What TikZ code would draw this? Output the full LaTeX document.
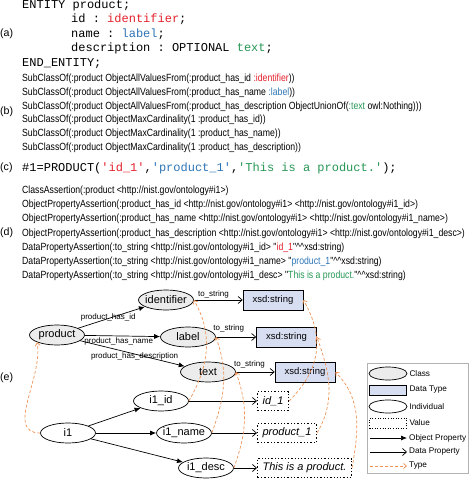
\documentclass[tikz,border=0pt]{standalone}
\usepackage{fontspec}
\setmainfont{Liberation Sans}
\setmonofont{Liberation Mono}
\newfontfamily\narrowfont[FakeStretch=0.836]{Liberation Sans}
\usetikzlibrary{shapes, arrows.meta, positioning, shapes.geometric}

\definecolor{codered}{RGB}{228,32,44}
\definecolor{codeblue}{RGB}{46,117,182}
\definecolor{codegreen}{RGB}{38,150,84}
\definecolor{typeorange}{RGB}{240,146,84}
\definecolor{dtblue}{RGB}{216,222,242}
\definecolor{clsgray}{RGB}{236,236,236}

\begin{document}
\begin{tikzpicture}[
	x=1pt, y=1pt,
	node distance=4pt and 4pt,
	code/.style={anchor=base west, align=left, inner sep=0pt, font=\ttfamily\fontsize{12}{14.5}\selectfont},
	owl/.style={anchor=base west, align=left, inner sep=0pt, font=\narrowfont\fontsize{10.4}{13.6}\selectfont},
	part/.style={anchor=west, inner sep=0pt, font=\fontsize{10.6}{12}\selectfont},
	cls/.style={ellipse, draw, line width=0.7pt, fill=clsgray, minimum width=55pt, minimum height=20pt,
		inner xsep=-3pt, inner ysep=0pt, font=\fontsize{11}{13}\selectfont},
	indiv/.style={cls, fill=white},
	dtype/.style={rectangle, draw, line width=0.7pt, fill=dtblue, minimum width=60pt, minimum height=20pt,
		inner sep=0pt, font=\fontsize{9.5}{11}\selectfont},
	val/.style={rectangle, draw, dotted, line width=1.3pt, minimum height=19pt, inner xsep=5pt,
		font=\itshape\fontsize{11}{13}\selectfont},
	lbl/.style={font=\fontsize{8}{9}\selectfont, inner sep=1pt},
	lgtext/.style={inner sep=0pt, font=\fontsize{8.2}{10}\selectfont},
	obj/.style={draw, line width=0.7pt, -{Latex[length=6pt, width=5pt]}},
	dat/.style={draw, line width=0.7pt, -{Straight Barb[length=4pt, width=7pt]}},
	type/.style={draw=typeorange, dash pattern=on 3pt off 2pt, line width=0.7pt,
		-{Straight Barb[length=3pt, width=5pt]}},
	]
	\useasboundingbox (0,0) rectangle (474,-481);
	
	\node [part] (pa) at (0,-34) {(a)};
	\node [part] (pb) at (0,-112) {(b)};
	\node [part] (pc) at (0,-168) {(c)};
	\node [part] (pd) at (0,-233) {(d)};
	\node [part] (pe) at (0,-378) {(e)};
	
	\node [code] (a) at (22,-66.5) {ENTITY product;\\
		\hspace*{49pt}id : \textcolor{codered}{identifier};\\
		\hspace*{49pt}name : \textcolor{codeblue}{label};\\
		\hspace*{49pt}description : OPTIONAL \textcolor{codegreen}{text};\\
		END\_ENTITY;};
	\node [owl] (b) at (22,-150) {SubClassOf(:product ObjectAllValuesFrom(:product\_has\_id \textcolor{codered}{:identifier}))\\
		SubClassOf(:product ObjectAllValuesFrom(:product\_has\_name \textcolor{codeblue}{:label}))\\
		SubClassOf(:product ObjectAllValuesFrom(:product\_has\_description ObjectUnionOf(\textcolor{codegreen}{:text} owl:Nothing)))\\
		SubClassOf(:product ObjectMaxCardinality(1 :product\_has\_id))\\
		SubClassOf(:product ObjectMaxCardinality(1 :product\_has\_name))\\
		SubClassOf(:product ObjectMaxCardinality(1 :product\_has\_description))};
	\node [code] (c) at (22,-171.5) {\#1=PRODUCT(\textcolor{codered}{'id\_1'},\textcolor{codeblue}{'product\_1'},\textcolor{codegreen}{'This is a product.'});};
	\node [owl, font=\narrowfont\fontsize{10.4}{14.2}\selectfont] (d) at (22,-278.7) {ClassAssertion(:product <http://nist.gov/ontology\#i1>)\\
		ObjectPropertyAssertion(:product\_has\_id <http://nist.gov/ontology\#i1> <http://nist.gov/ontology\#i1\_id>)\\
		ObjectPropertyAssertion(:product\_has\_name <http://nist.gov/ontology\#i1> <http://nist.gov/ontology\#i1\_name>)\\
		ObjectPropertyAssertion(:product\_has\_description <http://nist.gov/ontology\#i1> <http://nist.gov/ontology\#i1\_desc>)\\
		DataPropertyAssertion(:to\_string <http://nist.gov/ontology\#i1\_id> "\textcolor{codered}{id\_1}"\textasciicircum\textasciicircum xsd:string)\\
		DataPropertyAssertion(:to\_string <http://nist.gov/ontology\#i1\_name> "\textcolor{codeblue}{product\_1}"\textasciicircum\textasciicircum xsd:string)\\
		DataPropertyAssertion(:to\_string <http://nist.gov/ontology\#i1\_desc> "\textcolor{codegreen}{This is a product.}"\textasciicircum\textasciicircum xsd:string)};
	
	\node [cls] (product) at (57,-335) {product};
	\node [cls, on grid, above right=35pt and 109pt of product] (identifier) {identifier};
	\node [cls, on grid, below right=2pt and 131pt of product] (label) {label};
	\node [cls, on grid, below right=37pt and 151pt of product] (text) {text};
	\node [dtype, on grid, right=107pt of identifier] (xsd1) {xsd:string};
	\node [dtype, on grid, right=98.5pt of label] (xsd2) {xsd:string};
	\node [dtype, on grid, right=97pt of text] (xsd3) {xsd:string};
	\node [indiv, on grid, below right=98pt and 11pt of product] (i1) {i1};
	\node [indiv, on grid, above right=32pt and 93pt of i1] (i1_id) {i1\_id};
	\node [indiv, on grid, right=116pt of i1] (i1_name) {i1\_name};
	\node [indiv, on grid, below right=35pt and 138pt of i1] (i1_desc) {i1\_desc};
	\node [val, on grid, right=112pt of i1_id] (id1) {id\_1};
	\node [val, on grid, right=103pt of i1_name] (prod1) {product\_1};
	\node [val, on grid, right=98.5pt of i1_desc] (desc) {This is a product.};
	
	\path [obj] (product) -- node [lbl, pos=0.45, yshift=1pt] {product\_has\_id} (identifier);
	\path [obj] (product) -- node [lbl, below, pos=0.45] {product\_has\_name} (label);
	\path [obj] (product) -- node [lbl, pos=0.52, yshift=-2pt] {product\_has\_description} (text);
	\path [obj] (i1) -- (i1_id);
	\path [obj] (i1) -- (i1_name);
	\path [obj] (i1) -- (i1_desc);
	
	\path [dat] (identifier) -- node [lbl, above, pos=0.4] {to\_string} (xsd1);
	\path [dat] (label) -- node [lbl, above=3pt, pos=0.32] {to\_string} (xsd2);
	\path [dat] (text) -- node [lbl, above=2pt, pos=0.35] {to\_string} (xsd3);
	\path [dat] (i1_id) -- (id1);
	\path [dat] (i1_name) -- (prod1);
	\path [dat] (i1_desc) -- (desc);
	
	\path [type] (i1.west) to[out=180, in=-80] (product.200);
	\path [type] (i1_id.east) to[out=60, in=-60] (identifier.east);
	\path [type] (i1_name.east) to[out=70, in=-70] (label.east);
	\path [type] (i1_desc.east) to[out=70, in=-70] (text.east);
	\path [type] (id1.east) to[out=45, in=-60, looseness=1.1] (xsd1.east);
	\path [type] (prod1.east) to[out=60, in=-70] (xsd2.east);
	\path [type] (desc.east) to[out=80, in=-45] (xsd3.east);
	
	\node [draw=gray!60, line width=0.8pt, minimum width=101pt, minimum height=110pt, inner sep=0pt] (legend) at (417.5,-418) {};
	\node [cls, minimum width=38pt, minimum height=13pt] (lgcls) at (388,-373.5) {};
	\node [lgtext, right=2pt of lgcls] {Class};
	\node [dtype, minimum width=37pt, minimum height=10pt] (lgdt) at (388,-390) {};
	\node [lgtext, right=2.5pt of lgdt] {Data Type};
	\node [indiv, minimum width=38pt, minimum height=13pt] (lgind) at (388,-406.5) {};
	\node [lgtext, right=2pt of lgind] {Individual};
	\node [val, line width=0.6pt, minimum width=37pt, minimum height=10pt, inner sep=0pt] (lgval) at (388,-423) {};
	\node [lgtext, right=2.5pt of lgval] {Value};
	\coordinate (lgobja) at (370,-438);
	\coordinate (lgobjb) at (407,-438);
	\path [obj] (lgobja) -- (lgobjb);
	\node [lgtext, right=2pt of lgobjb] {Object Property};
	\coordinate (lgdata) at (370,-452);
	\coordinate (lgdatb) at (407,-452);
	\path [dat] (lgdata) -- (lgdatb);
	\node [lgtext, right=2pt of lgdatb] {Data Property};
	\coordinate (lgtypa) at (370,-466);
	\coordinate (lgtypb) at (407,-466);
	\path [type] (lgtypa) -- (lgtypb);
	\node [lgtext, right=2pt of lgtypb] {Type};
\end{tikzpicture}
\end{document}
